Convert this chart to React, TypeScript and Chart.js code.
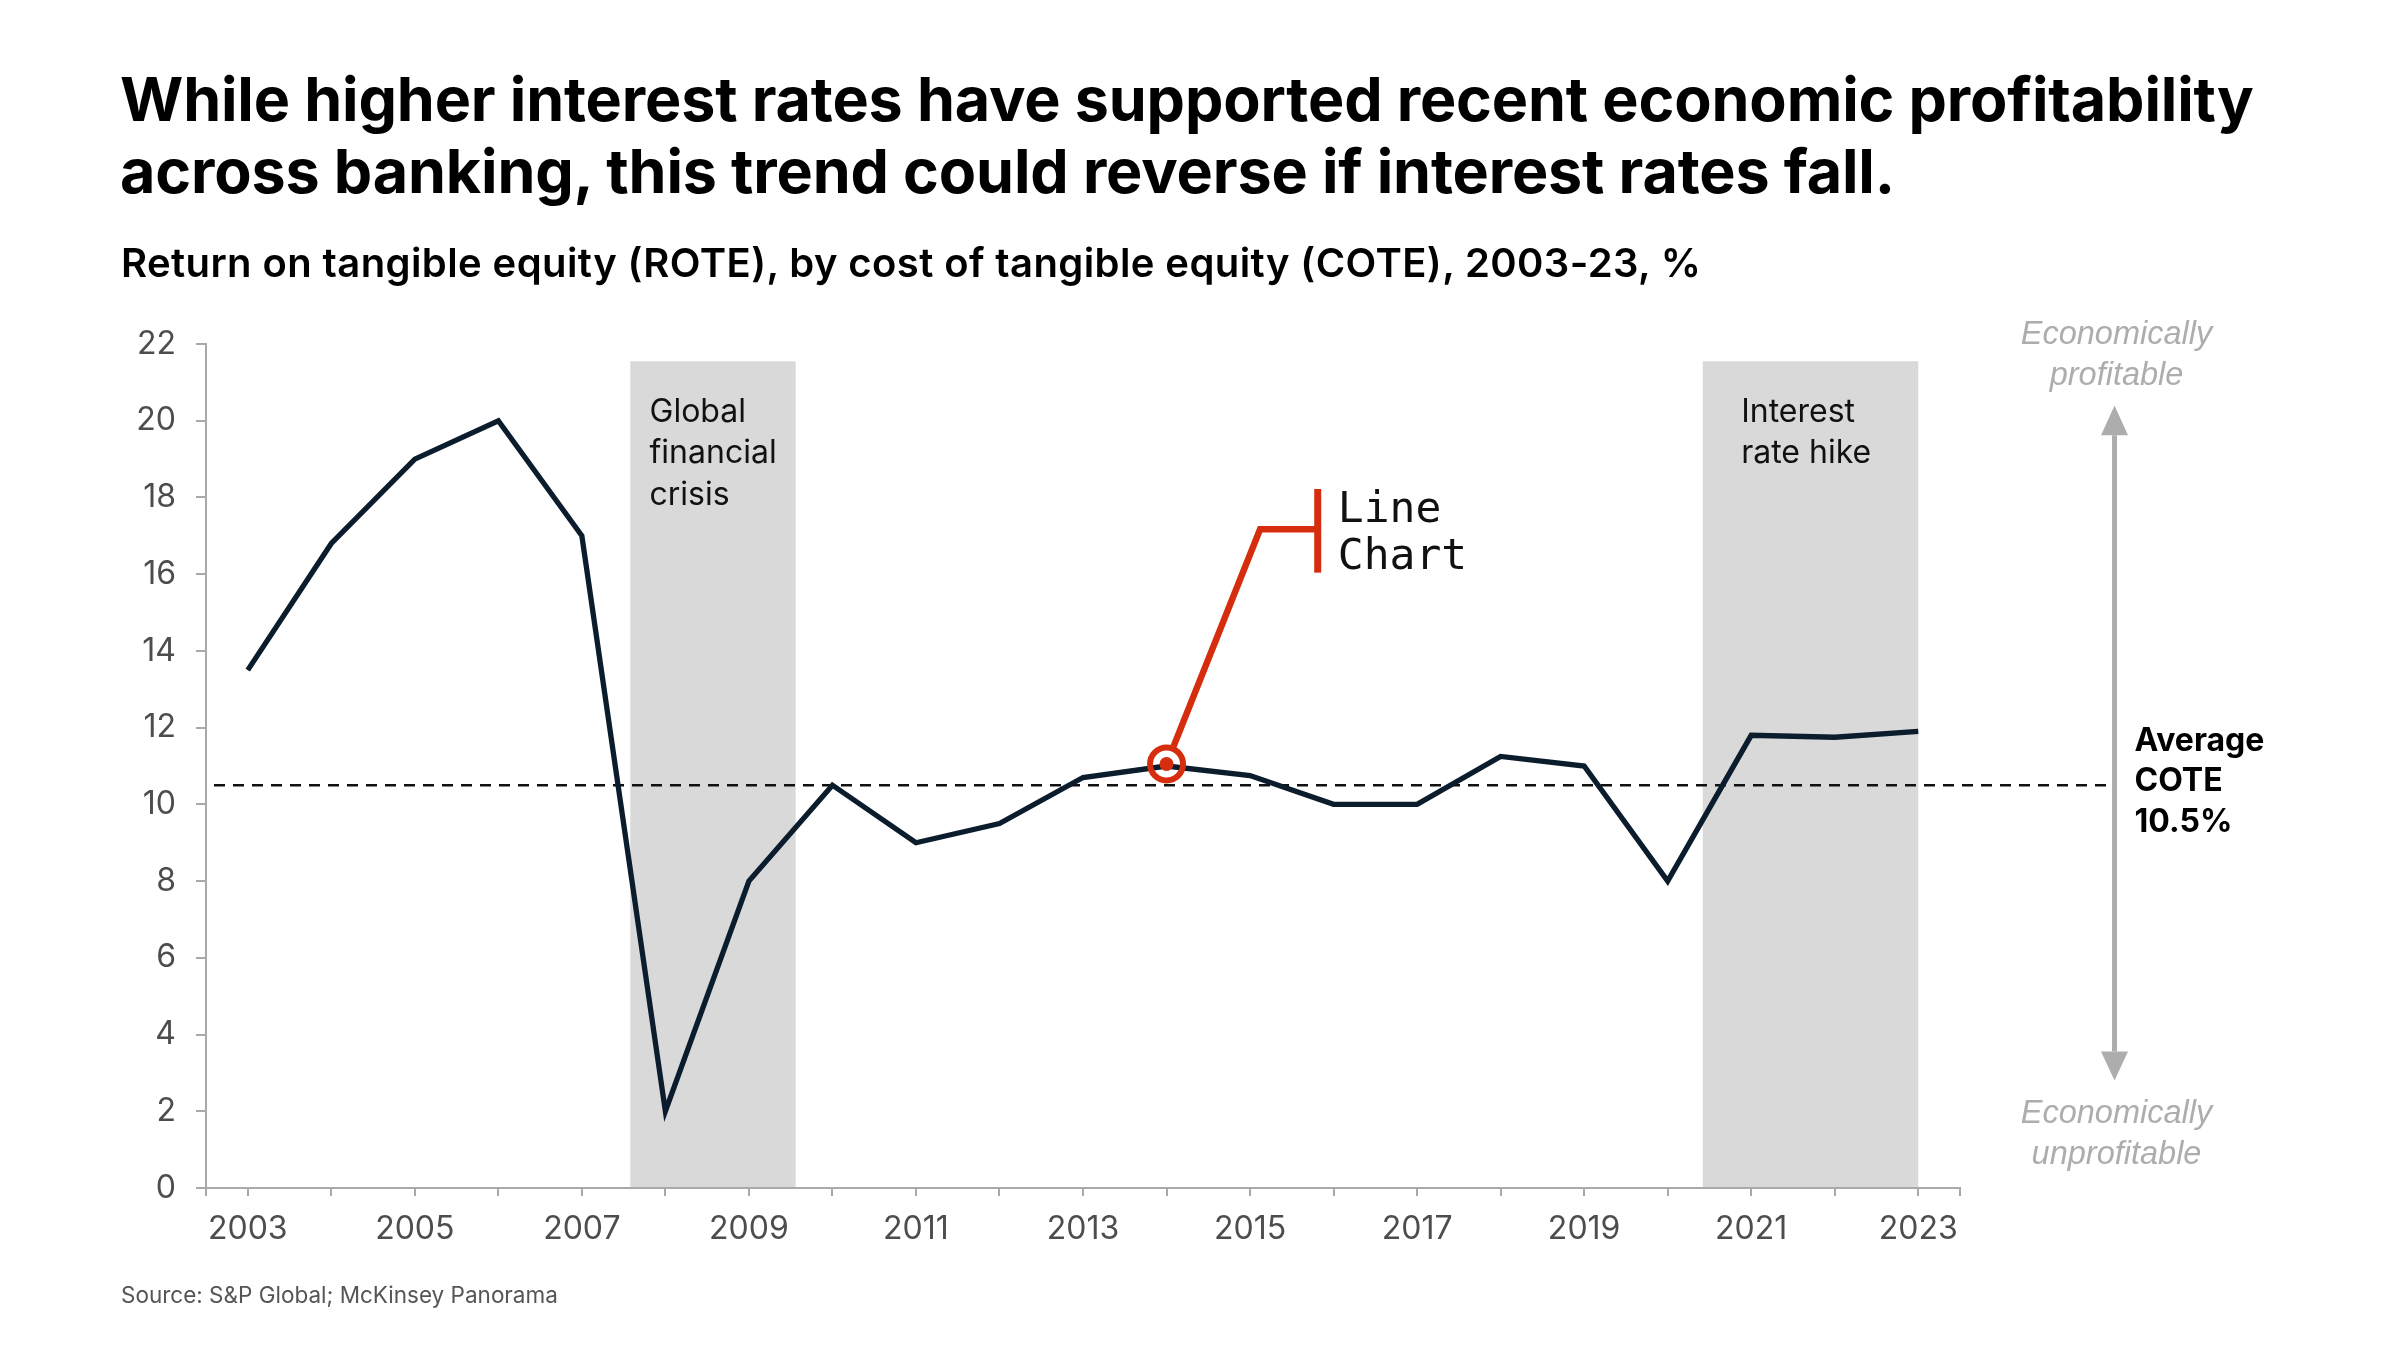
import { useEffect, useRef } from "react";
import { Chart, registerables } from "chart.js";

Chart.register(...registerables);

// ROTE by year, %
const years = [
  2003, 2004, 2005, 2006, 2007, 2008, 2009, 2010, 2011, 2012, 2013,
  2014, 2015, 2016, 2017, 2018, 2019, 2020, 2021, 2022, 2023,
];
const rote = [
  13.5, 16.8, 19.0, 20.0, 17.0, 2.0, 8.0, 10.5, 9.0, 9.5, 10.7,
  11.0, 10.75, 10.0, 10.0, 11.25, 11.0, 8.0, 11.8, 11.75, 11.9,
];

const xTickLabels = ["2003", "2005", "2007", "2009", "2011", "2013", "2015", "2017", "2019", "2021", "2023"];
const yTickValues = [0, 2, 4, 6, 8, 10, 12, 14, 16, 18, 20, 22];

// Average cost of tangible equity, %
const averageCote = 10.5;

// Shaded periods
const periodStarts = [2007.58, 2020.42];
const periodEnds = [2009.56, 2023.0];
const periodLabels = [["Global", "financial", "crisis"], ["Interest", "rate hike"]];
const periodLabelX = [2007.81, 2020.88];

// Highlighted year for the callout
const calloutYear = 2014;
const calloutText = ["Line", "Chart"];

const NAVY = "#0b1c2c";
const AXIS = "#a9a9a9";
const SHADE = "#d9d9d9";
const RED = "#d62d0f";
const TICK_TEXT = "#4d4d4d";
const SOFT_GREY = "#adadad";

const annotationPlugin = {
  id: "roteAnnotations",
  beforeDatasetsDraw(chart: any) {
    const { ctx, chartArea, scales } = chart;
    const xs = scales.x;
    const ys = scales.y;
    ctx.save();

    // shaded periods
    const shadeTop = ys.getPixelForValue(21.55);
    ctx.fillStyle = SHADE;
    periodStarts.forEach((s, i) => {
      const x0 = xs.getPixelForValue(s);
      const x1 = xs.getPixelForValue(periodEnds[i]);
      ctx.fillRect(x0, shadeTop, x1 - x0, chartArea.bottom - 1 - shadeTop);
    });

    // period labels
    ctx.fillStyle = "#111";
    ctx.font = "400 32px Inter";
    ctx.textAlign = "left";
    ctx.textBaseline = "middle";
    periodLabels.forEach((lines, i) => {
      const x = xs.getPixelForValue(periodLabelX[i]);
      lines.forEach((t, j) => {
        ctx.fillText(t, x, shadeTop + 51 + j * 41.5);
      });
    });

    // average COTE reference line
    const arrowX = xs.getPixelForValue(2025.35);
    const yAvg = ys.getPixelForValue(averageCote);
    ctx.strokeStyle = "#111";
    ctx.lineWidth = 2.5;
    ctx.setLineDash([11, 8]);
    ctx.beginPath();
    ctx.moveTo(chartArea.left + 8, yAvg);
    ctx.lineTo(arrowX - 2, yAvg);
    ctx.stroke();
    ctx.setLineDash([]);

    // profitability arrow
    const topTip = ys.getPixelForValue(20.4);
    const topBase = ys.getPixelForValue(19.62);
    const botTip = ys.getPixelForValue(2.8);
    const botBase = ys.getPixelForValue(3.56);
    ctx.strokeStyle = SOFT_GREY;
    ctx.fillStyle = SOFT_GREY;
    ctx.lineWidth = 5;
    ctx.beginPath();
    ctx.moveTo(arrowX, topBase);
    ctx.lineTo(arrowX, botBase);
    ctx.stroke();
    ctx.beginPath();
    ctx.moveTo(arrowX, topTip);
    ctx.lineTo(arrowX - 13.5, topBase);
    ctx.lineTo(arrowX + 13.5, topBase);
    ctx.closePath();
    ctx.fill();
    ctx.beginPath();
    ctx.moveTo(arrowX, botTip);
    ctx.lineTo(arrowX - 13.5, botBase);
    ctx.lineTo(arrowX + 13.5, botBase);
    ctx.closePath();
    ctx.fill();

    ctx.font = "italic 400 32.5px 'Liberation Sans'";
    ctx.textAlign = "center";
    ctx.fillStyle = SOFT_GREY;
    ctx.fillText("Economically", arrowX + 2, ys.getPixelForValue(22.23));
    ctx.fillText("profitable", arrowX + 2, ys.getPixelForValue(21.16));
    ctx.fillText("Economically", arrowX + 2, ys.getPixelForValue(1.93));
    ctx.fillText("unprofitable", arrowX + 2, ys.getPixelForValue(0.85));

    // average label
    ctx.font = "700 32px Inter";
    ctx.textAlign = "left";
    ctx.fillStyle = "#000";
    const lx = arrowX + 20;
    ctx.fillText("Average", lx, ys.getPixelForValue(11.65));
    ctx.fillText("COTE", lx, ys.getPixelForValue(10.6));
    ctx.fillText("10.5%", lx, ys.getPixelForValue(9.53));

    ctx.restore();
  },
  afterDatasetsDraw(chart: any) {
    const { ctx, scales } = chart;
    const xs = scales.x;
    const ys = scales.y;
    const idx = years.indexOf(calloutYear);
    const ax = xs.getPixelForValue(calloutYear);
    const ay = ys.getPixelForValue(rote[idx]) - 2;
    const ex = xs.getPixelForValue(2015.12);
    const ey = ys.getPixelForValue(17.17);
    const barX = xs.getPixelForValue(2015.81);

    ctx.save();
    ctx.strokeStyle = RED;
    ctx.fillStyle = RED;
    ctx.lineCap = "butt";
    ctx.lineJoin = "miter";

    // ring and dot
    ctx.lineWidth = 6;
    ctx.beginPath();
    ctx.arc(ax, ay, 16.5, 0, Math.PI * 2);
    ctx.stroke();
    ctx.beginPath();
    ctx.arc(ax, ay, 7, 0, Math.PI * 2);
    ctx.fill();

    // leader line
    const dx = ex - ax;
    const dy = ey - ay;
    const len = Math.hypot(dx, dy);
    const sx = ax + (dx / len) * 19;
    const sy = ay + (dy / len) * 19;
    ctx.lineWidth = 6.5;
    ctx.beginPath();
    ctx.moveTo(sx, sy);
    ctx.lineTo(ex, ey);
    ctx.lineTo(barX, ey);
    ctx.stroke();

    ctx.lineWidth = 7;
    ctx.beginPath();
    ctx.moveTo(barX, ys.getPixelForValue(18.22));
    ctx.lineTo(barX, ys.getPixelForValue(16.04));
    ctx.stroke();

    ctx.fillStyle = "#111";
    ctx.font = "400 43px 'DejaVu Sans Mono'";
    ctx.textAlign = "left";
    ctx.textBaseline = "alphabetic";
    const tx = xs.getPixelForValue(2016.05);
    ctx.fillText(calloutText[0], tx, ys.getPixelForValue(17.35));
    ctx.fillText(calloutText[1], tx, ys.getPixelForValue(16.13));
    ctx.restore();
  },
};

function RoteChart() {
  const ref = useRef<HTMLCanvasElement | null>(null);

  useEffect(() => {
    const canvas = ref.current;
    if (!canvas) return;
    const chart = new Chart(canvas, {
      type: "line",
      data: {
        datasets: [
          {
            data: years.map((y, i) => ({ x: y, y: rote[i] })),
            borderColor: NAVY,
            borderWidth: 5.3,
            pointRadius: 0,
            pointHoverRadius: 0,
            tension: 0,
            fill: false,
            borderJoinStyle: "miter",
          },
        ],
      },
      options: {
        animation: false,
        responsive: false,
        devicePixelRatio: 1,
        events: [],
        layout: { padding: { left: 0, top: 344, right: 440, bottom: 0 } },
        plugins: {
          legend: { display: false },
          tooltip: { enabled: false },
          title: { display: false },
        },
        scales: {
          x: {
            type: "linear",
            min: 2002.5,
            max: 2023.5,
            afterBuildTicks: (s: any) => {
              s.ticks = [2002.5, ...years, 2023.5].map((v) => ({ value: v }));
            },
            afterFit: (s: any) => {
              s.height = 162;
            },
            ticks: {
              autoSkip: false,
              maxRotation: 0,
              padding: 14,
              color: TICK_TEXT,
              font: { family: "Inter", size: 32 },
              callback: (v: any) => (xTickLabels.includes(String(v)) ? String(v) : ""),
            },
            grid: {
              drawOnChartArea: false,
              drawTicks: true,
              tickLength: 8,
              color: AXIS,
              lineWidth: 2,
            },
            border: { display: true, color: AXIS, width: 2 },
          },
          y: {
            min: 0,
            max: 22,
            afterBuildTicks: (s: any) => {
              s.ticks = yTickValues.map((v) => ({ value: v }));
            },
            afterFit: (s: any) => {
              s.width = 206;
            },
            ticks: {
              padding: 20,
              color: TICK_TEXT,
              font: { family: "Inter", size: 32 },
            },
            grid: {
              drawOnChartArea: false,
              drawTicks: true,
              tickLength: 10,
              color: AXIS,
              lineWidth: 2,
            },
            border: { display: true, color: AXIS, width: 2 },
          },
        },
      },
      plugins: [annotationPlugin],
    });
    if ((document as any).fonts && (document as any).fonts.ready) {
      (document as any).fonts.ready.then(() => chart.update());
    }
    return () => chart.destroy();
  }, []);

  return (
    <canvas
      ref={ref}
      width={2400}
      height={1350}
      style={{ position: "absolute", left: 0, top: 0, width: 2400, height: 1350 }}
    />
  );
}

export default function App() {
  return (
    <div
      style={{
        position: "absolute",
        left: 0,
        top: 0,
        width: 2400,
        height: 1350,
        background: "#fff",
        overflow: "hidden",
        fontFamily: "Inter, 'Liberation Sans', sans-serif",
      }}
    >
      <RoteChart />
      <div
        style={{
          position: "absolute",
          left: 120,
          top: 63,
          fontSize: 61,
          fontWeight: 700,
          lineHeight: "72px",
          letterSpacing: "-0.15px",
          color: "#000",
          whiteSpace: "nowrap",
        }}
      >
        While higher interest rates have supported recent economic profitability
        <br />
        across banking, this trend could reverse if interest rates fall.
      </div>
      <div
        style={{
          position: "absolute",
          left: 121,
          top: 239,
          fontSize: 40,
          fontWeight: 600,
          lineHeight: "48px",
          letterSpacing: "0.4px",
          color: "#000",
          whiteSpace: "nowrap",
        }}
      >
        Return on tangible equity (ROTE), by cost of tangible equity (COTE), 2003-23, %
      </div>
      <div
        style={{
          position: "absolute",
          left: 121,
          top: 1281,
          fontSize: 22.5,
          lineHeight: "27px",
          color: "#555",
          whiteSpace: "nowrap",
        }}
      >
        Source: S&amp;P Global; McKinsey Panorama
      </div>
    </div>
  );
}
